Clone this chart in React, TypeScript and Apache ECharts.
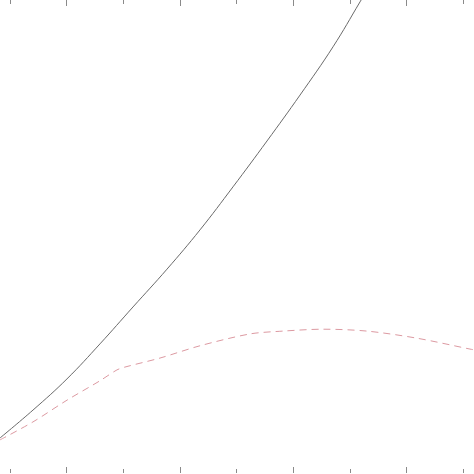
import React, { useEffect, useRef } from "react";
import * as echarts from "echarts";

// Solid (dark grey) curve
const solidX = [-0.177, 0.406, 1.007, 1.59, 2.173, 2.774, 3.357, 3.94, 4.541, 5.124, 5.707, 6.184, 6.625];
const solidY = [0.74, 1.33, 1.99, 2.73, 3.51, 4.31, 5.14, 6.05, 7.02, 7.99, 9.01, 9.96, 10.85];

// Dashed (red) curve
const dashX = [-0.177, 0.406, 1.007, 1.59, 1.89, 2.032, 2.65, 3.357, 4.24, 4.823, 5.53, 6.307, 7.191, 8.127, 8.304];
const dashY = [0.7, 1.08, 1.54, 1.95, 2.18, 2.24, 2.43, 2.69, 2.94, 3.0, 3.04, 3.0, 2.85, 2.62, 2.58];

// Tick axis range (visible ticks) and the full visible data range
const tickMin = 0;
const tickMax = 8;
const tickInterval = 2;
const viewXMin = -0.17668;
const viewXMax = 8.19788;
const yMin = 0;
const yMax = 10;

export default function App() {
  const ref = useRef<HTMLDivElement>(null);
  useEffect(() => {
    document.body.style.margin = "0";
    if (!ref.current) return;
    const chart = echarts.init(ref.current, null, { renderer: "svg" });
    const tickColor = "#8a8a8a";
    const makeTickAxis = (position: "top" | "bottom") => ({
      type: "value" as const,
      gridIndex: 1,
      position,
      min: tickMin,
      max: tickMax,
      interval: tickInterval,
      axisLine: { show: false },
      axisTick: { show: true, inside: true, length: 4, lineStyle: { color: tickColor, width: 1 } },
      minorTick: { show: true, splitNumber: 2, length: 6, lineStyle: { color: tickColor, width: 1 } },
      axisLabel: { show: false },
      splitLine: { show: false },
      minorSplitLine: { show: false },
    });
    chart.setOption({
      animation: false,
      backgroundColor: "#ffffff",
      grid: [
        { left: 0, right: 0, top: 0, bottom: 1 },
        { left: 10, right: 11, top: 0, bottom: 1 },
      ],
      xAxis: [
        { type: "value", gridIndex: 0, min: viewXMin, max: viewXMax, show: false },
        makeTickAxis("bottom"),
        makeTickAxis("top"),
      ],
      yAxis: [
        { type: "value", gridIndex: 0, min: yMin, max: yMax, show: false },
        { type: "value", gridIndex: 1, min: yMin, max: yMax, show: false },
      ],
      series: [
        {
          type: "line",
          xAxisIndex: 0,
          yAxisIndex: 0,
          data: solidX.map((x, i) => [x, solidY[i]]),
          showSymbol: false,
          symbol: "none",
          smooth: 0.4,
          lineStyle: { color: "#6a6a6a", width: 1 },
        },
        {
          type: "line",
          xAxisIndex: 0,
          yAxisIndex: 0,
          data: dashX.map((x, i) => [x, dashY[i]]),
          showSymbol: false,
          symbol: "none",
          smooth: 0.3,
          lineStyle: { color: "#dc99a1", width: 1, type: [7, 5] },
        },
      ],
    });
    return () => chart.dispose();
  }, []);
  return <div ref={ref} style={{ width: 474, height: 474 }} />;
}
